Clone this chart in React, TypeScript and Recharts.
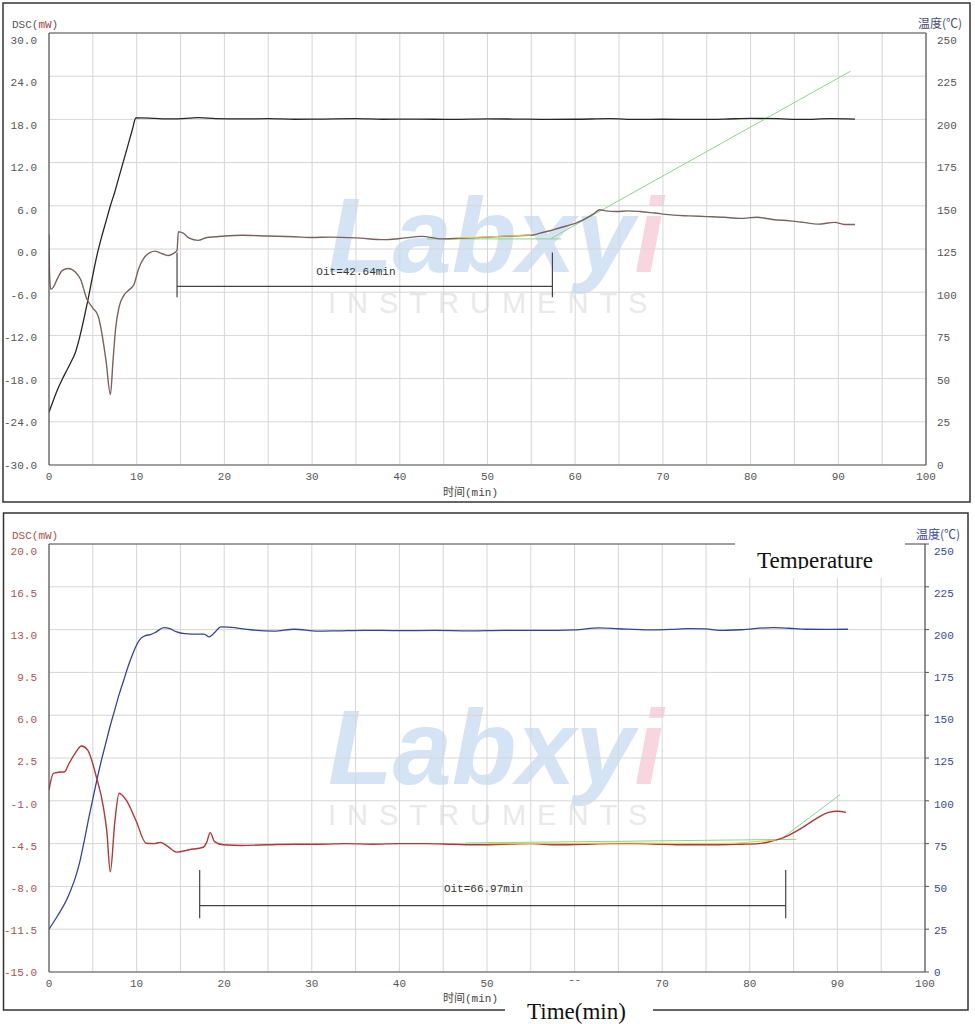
import React from 'react';
import { ComposedChart, Line, XAxis, YAxis, CartesianGrid, ReferenceLine, ReferenceDot } from 'recharts';

// ---------- shared axis ticks ----------
const xTicks = [0, 5, 10, 15, 20, 25, 30, 35, 40, 45, 50, 55, 60, 65, 70, 75, 80, 85, 90, 95, 100];
const tempTicks = [0, 25, 50, 75, 100, 125, 150, 175, 200, 225, 250];
const topDscTicks = [-30, -24, -18, -12, -6, 0, 6, 12, 18, 24, 30];
const bottomDscTicks = [-15, -11.5, -8, -4.5, -1, 2.5, 6, 9.5, 13, 16.5, 20];

// ---------- top chart data ----------
const topTempT = [0, 0.5, 1.0, 1.5, 2.0, 2.5, 3.0, 3.5, 4.0, 4.5, 5.0, 5.5, 6.0, 6.5, 7.0, 7.5, 8.0, 8.5, 9.0, 9.5, 9.9, 10.5, 12, 14, 16, 17, 19, 22, 25, 28, 31, 35, 38, 42, 46, 50, 53, 57, 60, 64, 67, 70, 74, 77, 80, 83, 86, 89, 91.9];
const topTempV = [30.5, 37.5, 44, 49.5, 54.5, 59.5, 65, 74, 85, 97, 110, 122, 132, 141, 150, 158, 167, 176, 185, 194, 200.8, 200.9, 200.6, 200.3, 200.7, 201, 200.5, 200.3, 200.4, 200.1, 200.2, 200.4, 200.1, 200.2, 200.0, 200.3, 200.2, 200.0, 200.1, 200.4, 200.0, 200.1, 200.0, 200.2, 200.6, 200.4, 200.0, 200.4, 200.2];

const topDscT = [0, 0.05, 0.2, 0.5, 1.0, 1.5, 2.2, 3.0, 3.6, 4.3, 5.0, 5.6, 6.0, 6.5, 7.0, 7.3, 7.6, 8.0, 8.5, 9.2, 9.7, 10.2, 10.8, 11.5, 12.1, 13.0, 13.6, 14.2, 14.6, 14.75, 15.3, 16.0, 17.0, 18.0, 19.0, 20, 22, 25, 28, 30, 32, 35, 38.3, 40, 42.5, 44.8, 47.9, 50, 51.7, 53.5, 55.2, 56, 57, 58, 59, 60, 61, 62, 62.8, 63.5, 64.7, 66, 67.4, 69, 71.2, 73, 75, 77, 78.8, 80.7, 82.5, 84.5, 86, 87.7, 89.6, 90.7, 91.9];
const topDscV = [2.0, -3.0, -5.6, -5.3, -4.0, -3.0, -2.7, -3.2, -4.2, -6.9, -8.2, -9.3, -11.5, -15.5, -20.2, -15.5, -11.0, -8.0, -6.5, -5.6, -4.9, -2.8, -1.3, -0.5, -0.3, -0.7, -0.9, -0.6, -0.2, 2.4, 2.2, 1.5, 1.2, 1.6, 1.7, 1.8, 1.9, 1.8, 1.7, 1.6, 1.65, 1.55, 1.3, 1.45, 1.75, 1.4, 1.55, 1.65, 1.75, 1.85, 1.95, 2.2, 2.5, 2.85, 3.2, 3.55, 4.1, 4.8, 5.45, 5.3, 5.2, 5.3, 5.2, 5.0, 4.7, 4.6, 4.5, 4.4, 4.25, 4.4, 4.1, 3.9, 3.7, 3.45, 3.7, 3.4, 3.4];

const topBaseT = [43.1, 58.4];
const topBaseV = [1.4, 1.4];
const topTangentT = [57.3, 91.4];
const topTangentV = [1.5, 24.7];
const topYellowT = [46.5, 49, 52, 55];
const topYellowV = [1.55, 1.62, 1.8, 1.95];

const topOitStart = 14.6;
const topOitEnd = 57.4;
const topOitTop = -0.5;
const topOitBottom = -6.7;
const topOitBar = -5.2;
const topOitLabel = 'Oit=42.64min';
const topOitLabelPos = [35.0, -3.0];

// ---------- bottom chart data ----------
const bottomTempT = [0, 1, 2, 2.5, 3, 3.5, 4, 4.5, 5, 5.5, 6, 6.5, 7, 7.5, 8, 8.5, 9, 9.5, 10, 10.5, 11, 11.6, 12.2, 13.1, 13.8, 14.5, 15.5, 17, 17.7, 18.3, 19, 19.6, 20.5, 21.5, 23, 25.7, 28, 30.7, 33, 36, 40, 44, 48, 52, 56, 60, 62.8, 65, 68.5, 71, 73, 75, 76.5, 79, 82.6, 84.5, 86.4, 89, 91.2];
const bottomTempV = [25, 33, 42, 48, 55, 64, 76, 89, 101, 113, 124, 134, 144, 153, 162, 170, 178, 185, 191, 195, 196.5, 197.1, 198.5, 201.2, 200.6, 198.8, 197.6, 197.3, 197.4, 195.8, 198.8, 201.6, 201.5, 200.9, 199.9, 199.1, 200.2, 199.1, 199.3, 199.6, 199.4, 199.5, 199.3, 199.6, 199.5, 199.8, 201, 200.5, 199.8, 200.1, 200.6, 200.4, 199.5, 199.9, 201.2, 200.8, 200.2, 200.1, 200.2];

const bottomDscT = [0, 0.5, 1.1, 1.8, 2.2, 3.0, 3.7, 4.4, 5.4, 6.2, 6.6, 7.0, 7.5, 8.0, 8.8, 9.9, 11.1, 12.0, 12.7, 13.5, 14.6, 16.0, 17.6, 18.0, 18.4, 18.9, 19.9, 22, 25, 28, 31, 34, 37, 40, 43, 46, 49, 52, 55, 58, 61, 64, 67, 70, 73, 76, 79, 81, 82.5, 83.5, 84.5, 86, 87.5, 89, 90, 91];
const bottomDscV = [-0.1, 1.25, 1.33, 1.38, 1.93, 2.9, 3.48, 3.16, 0.97, -1.48, -3.5, -6.8, -2.84, -0.38, -0.93, -2.57, -4.47, -4.5, -4.4, -4.7, -5.2, -5.0, -4.8, -4.4, -3.6, -4.34, -4.6, -4.65, -4.6, -4.55, -4.55, -4.5, -4.55, -4.5, -4.5, -4.55, -4.6, -4.55, -4.5, -4.6, -4.55, -4.5, -4.5, -4.55, -4.6, -4.6, -4.55, -4.5, -4.3, -4.1, -3.8, -3.2, -2.5, -1.95, -1.85, -1.95];

const bottomBaseT = [47.5, 85.3];
const bottomBaseV = [-4.45, -4.15];
const bottomTangentT = [83.8, 90.3];
const bottomTangentV = [-4.0, -0.5];
const bottomYellowT = [50, 58, 66, 76, 83];
const bottomYellowV = [-4.5, -4.5, -4.45, -4.5, -4.2];

const bottomOitStart = 17.2;
const bottomOitEnd = 84.1;
const bottomOitTop = -6.66;
const bottomOitBottom = -10.6;
const bottomOitBar = -9.57;
const bottomOitLabel = 'Oit=66.97min';
const bottomOitLabelPos = [49.6, -8.15];

// ---------- helpers ----------
const pts = (t: number[], v: number[]) => t.map((x, i) => ({ t: x, v: v[i] }));
const MONO = '"Liberation Mono", "Noto Sans CJK SC", monospace';
const CJK = '"Noto Sans CJK SC", sans-serif';

// y tick labels drift slightly below their grid lines toward the top (as in the scanned original)
const makeYTick = (plotTop: number, plotBottom: number, color: string, fmt: (v: number) => string) =>
  (props: any) => {
    const { x, y, payload, textAnchor } = props;
    const shift = (7 * (plotBottom - y)) / (plotBottom - plotTop);
    return (
      <text x={x} y={y + shift} dy="0.355em" textAnchor={textAnchor} fontSize={11} fontFamily={MONO} fill={color}>
        {fmt(payload.value)}
      </text>
    );
  };

type Pt = { t: number; v: number };
type ChartProps = {
  height: number;
  margin: { top: number; right: number; bottom: number; left: number };
  rightWidth: number;
  plotBottom: number;
  dscDomain: [number, number];
  dscTicks: number[];
  dscTickColor: string;
  tempTickColor: string;
  tempColor: string;
  dscColor: string;
  temp: Pt[];
  dsc: Pt[];
  base: Pt[];
  tangent: Pt[];
  yellow: Pt[];
  oit: { start: number; end: number; top: number; bottom: number; bar: number; label: string; pos: number[] };
  rightTick: boolean;
};

function DscChart(p: ChartProps) {
  const tickX = { fontSize: 11, fontFamily: MONO, fill: '#555' };
  const plotTop = p.margin.top;
  return (
    <ComposedChart width={975} height={p.height} margin={p.margin}>
      <CartesianGrid stroke="#d6d6d6" strokeWidth={1} yAxisId="left" />
      <XAxis
        dataKey="t"
        type="number"
        domain={[0, 100]}
        ticks={xTicks}
        interval={0}
        allowDataOverflow
        tickFormatter={(v: number) => (v % 10 === 0 ? String(v) : '')}
        tickLine={false}
        tickMargin={1}
        axisLine={{ stroke: '#555', strokeWidth: 1.2 }}
        tick={tickX}
        height={30}
      />
      <YAxis
        yAxisId="left"
        orientation="left"
        type="number"
        width={49}
        domain={p.dscDomain}
        ticks={p.dscTicks}
        interval={0}
        allowDataOverflow
        tickLine={false}
        tickMargin={6}
        axisLine={{ stroke: '#555', strokeWidth: 1.2 }}
        tick={makeYTick(plotTop, p.plotBottom, p.dscTickColor, (v) => v.toFixed(1))}
      />
      <YAxis
        yAxisId="right"
        orientation="right"
        type="number"
        width={p.rightWidth}
        domain={[0, 250]}
        ticks={tempTicks}
        interval={0}
        allowDataOverflow
        tickLine={p.rightTick ? { stroke: '#555' } : false}
        tickSize={p.rightTick ? 4 : 6}
        tickMargin={5}
        axisLine={{ stroke: '#555', strokeWidth: 1.2 }}
        tick={makeYTick(plotTop, p.plotBottom, p.tempTickColor, (v) => String(v))}
      />
      <ReferenceLine yAxisId="left" y={p.dscDomain[1]} stroke="#555" strokeWidth={1.2} />

      <Line data={p.base} dataKey="v" yAxisId="left" type="linear" stroke="#8fd48a" strokeWidth={1} dot={false} isAnimationActive={false} />
      <Line data={p.tangent} dataKey="v" yAxisId="left" type="linear" stroke="#8fd48a" strokeWidth={1} dot={false} isAnimationActive={false} />
      <Line data={p.temp} dataKey="v" yAxisId="right" type="monotone" stroke={p.tempColor} strokeWidth={1.3} dot={false} isAnimationActive={false} />
      <Line data={p.dsc} dataKey="v" yAxisId="left" type="monotone" stroke={p.dscColor} strokeWidth={1.4} dot={false} isAnimationActive={false} />
      <Line data={p.yellow} dataKey="v" yAxisId="left" type="monotone" stroke="#e2d04a" strokeWidth={1} dot={false} isAnimationActive={false} />

      <ReferenceLine yAxisId="left" segment={[{ x: p.oit.start, y: p.oit.top }, { x: p.oit.start, y: p.oit.bottom }]} stroke="#444" strokeWidth={1.2} />
      <ReferenceLine yAxisId="left" segment={[{ x: p.oit.end, y: p.oit.top }, { x: p.oit.end, y: p.oit.bottom }]} stroke="#444" strokeWidth={1.2} />
      <ReferenceLine yAxisId="left" segment={[{ x: p.oit.start, y: p.oit.bar }, { x: p.oit.end, y: p.oit.bar }]} stroke="#444" strokeWidth={1.2} />
      <ReferenceDot
        yAxisId="left"
        x={p.oit.pos[0]}
        y={p.oit.pos[1]}
        r={0}
        fill="none"
        stroke="none"
        label={{ value: p.oit.label, position: 'center', fontSize: 11, fontFamily: MONO, fill: '#333' }}
      />
    </ComposedChart>
  );
}

function Watermark({ dy }: { dy: number }) {
  return (
    <g>
      <text x={328} y={272 + dy} fontSize={106} fontWeight="bold" fontStyle="italic" fontFamily='"Liberation Sans", Arial, sans-serif'>
        <tspan fill="#d4e4f4">Labxy</tspan>
        <tspan fill="#f9d5df">i</tspan>
      </text>
      <text x={328} y={313 + dy} fontSize={29} fontFamily='"Liberation Sans", Arial, sans-serif' fill="#e9e9e9" letterSpacing={11}>
        INSTRUMENTS
      </text>
    </g>
  );
}

export default function App() {
  return (
    <div style={{ position: 'absolute', left: 0, top: 0, width: 975, height: 1024, background: '#fff', overflow: 'hidden' }}>
      <svg width={975} height={1024} style={{ position: 'absolute', left: 0, top: 0 }}>
        <Watermark dy={0} />
        <Watermark dy={512} />
      </svg>

      <div style={{ position: 'absolute', left: 0, top: 0 }}>
        <DscChart
          height={505}
          margin={{ top: 33, right: 0, bottom: 10, left: 0 }}
          rightWidth={49}
          plotBottom={465}
          dscDomain={[-30, 30]}
          dscTicks={topDscTicks}
          dscTickColor="#555"
          tempTickColor="#555"
          tempColor="#262626"
          dscColor="#7a625e"
          temp={pts(topTempT, topTempV)}
          dsc={pts(topDscT, topDscV)}
          base={pts(topBaseT, topBaseV)}
          tangent={pts(topTangentT, topTangentV)}
          yellow={pts(topYellowT, topYellowV)}
          oit={{ start: topOitStart, end: topOitEnd, top: topOitTop, bottom: topOitBottom, bar: topOitBar, label: topOitLabel, pos: topOitLabelPos }}
          rightTick={false}
        />
      </div>

      <div style={{ position: 'absolute', left: 0, top: 510 }}>
        <DscChart
          height={514}
          margin={{ top: 34, right: 0, bottom: 22, left: 0 }}
          rightWidth={50}
          plotBottom={462}
          dscDomain={[-15, 20]}
          dscTicks={bottomDscTicks}
          dscTickColor="#a5574f"
          tempTickColor="#3c4a92"
          tempColor="#34449a"
          dscColor="#b03838"
          temp={pts(bottomTempT, bottomTempV)}
          dsc={pts(bottomDscT, bottomDscV)}
          base={pts(bottomBaseT, bottomBaseV)}
          tangent={pts(bottomTangentT, bottomTangentV)}
          yellow={pts(bottomYellowT, bottomYellowV)}
          oit={{ start: bottomOitStart, end: bottomOitEnd, top: bottomOitTop, bottom: bottomOitBottom, bar: bottomOitBar, label: bottomOitLabel, pos: bottomOitLabelPos }}
          rightTick={true}
        />
      </div>

      <svg width={975} height={1024} style={{ position: 'absolute', left: 0, top: 0, pointerEvents: 'none' }}>
        <defs>
          <clipPath id="tempClip">
            <rect x={735} y={540} width={170} height={29} />
          </clipPath>
        </defs>
        {/* frames */}
        <rect x={3} y={3} width={967} height={499} fill="none" stroke="#333" strokeWidth={1.5} />
        <rect x={3.5} y={513} width={964.5} height={497} fill="none" stroke="#333" strokeWidth={1.5} />

        {/* top chart labels */}
        <text x={12} y={28} fontSize={11} fontFamily={MONO}>
          <tspan fill="#555">DSC(</tspan>
          <tspan fill="#a0463f">mW</tspan>
          <tspan fill="#555">)</tspan>
        </text>
        <text x={918} y={28} fontSize={12} fontFamily={CJK} fill="#4a4f70">温度(℃)</text>
        <text x={443} y={496} fontSize={11} fontFamily={MONO} fill="#444">时间(min)</text>

        {/* bottom chart labels */}
        <text x={12} y={539} fontSize={11} fontFamily={MONO} fill="#a5524c">DSC(mW)</text>
        <text x={916} y={539} fontSize={12} fontFamily={CJK} fill="#3a4aa5">温度(℃)</text>
        <text x={443} y={1002} fontSize={11} fontFamily={MONO} fill="#444">时间(min)</text>

        {/* pasted captions */}
        <rect x={735} y={540} width={170} height={38} fill="#fff" />
        <text x={757} y={568} fontSize={23} fontFamily='"Liberation Serif", "Times New Roman", serif' fill="#111" clipPath="url(#tempClip)">Temperature</text>
        <rect x={505} y={981} width={148} height={43} fill="#fff" />
        <text x={527} y={1019} fontSize={23} fontFamily='"Liberation Serif", "Times New Roman", serif' fill="#111">Time(min)</text>
      </svg>
    </div>
  );
}
